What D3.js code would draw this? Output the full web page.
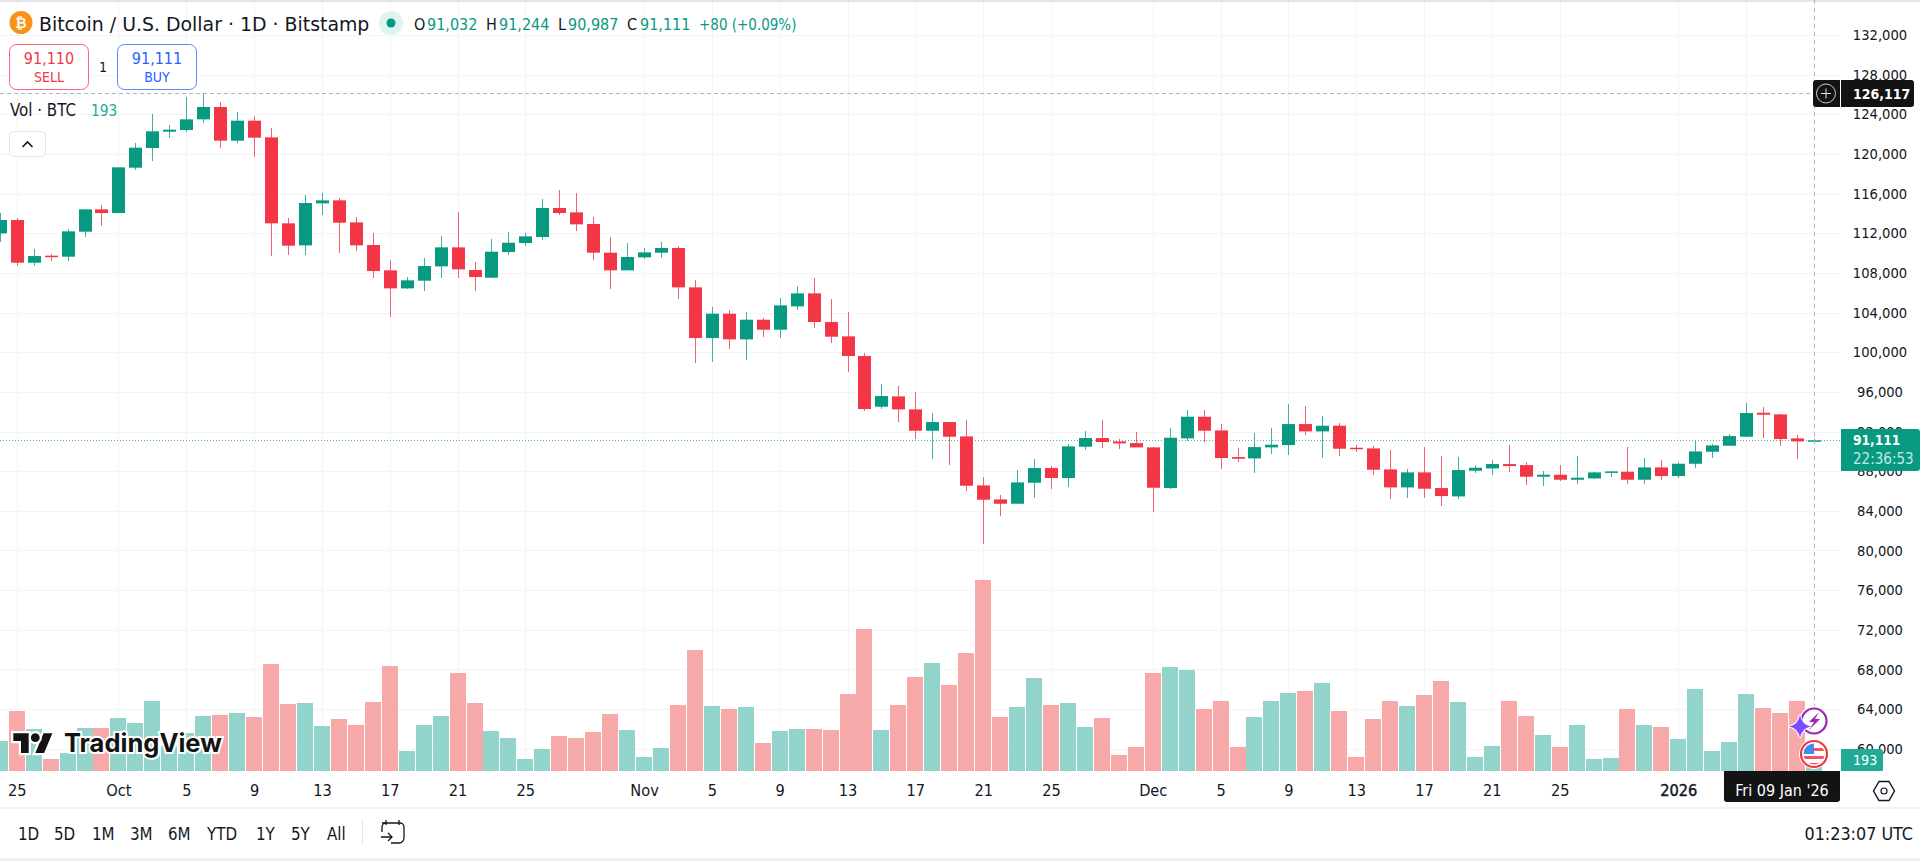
<!DOCTYPE html>
<html>
<head>
<meta charset="utf-8">
<title>Bitcoin / U.S. Dollar daily candles</title>
<script src="https://cdn.jsdelivr.net/npm/d3@7"></script>
<style>
  html, body { margin: 0; padding: 0; background: #fff; overflow: hidden; }
  svg { display: block; }
  text { font-family: "DejaVu Sans Condensed", "DejaVu Sans", sans-serif; fill: #131722; }
</style>
</head>
<body>
<svg id="chart" width="1920" height="861"></svg>
<script>
// Daily sessions, one entry per day starting 24 Sep 2025.
const firstSession = "2025-09-24";

const opens = [
  111989,113334,109030,109736,109635,112157,114410,114040,118614,120598,122246,122414,123491,124735,121338,123356,121674,113000,110779,115016,
  115319,113099,110812,108256,106440,107213,108660,110577,108290,107516,110105,111013,111618,114544,114107,112930,110038,108256,109567,110038,
  110509,106540,101429,103884,101294,103278,102269,104624,105935,103043,101597,99613,94499,95541,94230,92077,92952,91506,86562,85150,
  84712,86831,88311,87302,90463,91337,91001,90833,90396,86293,91304,93490,92111,89420,89286,90396,90631,92750,92010,92582,
  90362,90295,88176,86360,87874,86293,85452,88042,88277,88714,88613,87437,87638,87134,87268,87874,87941,87134,88378,87504,
  88748,89959,90564,91472,93893,93725,91304,91032
];
const highs = [
  114007,113570,110375,109904,112392,114478,114848,118715,121069,123995,122919,125744,126117,125239,124197,123793,122616,113502,115823,116058,
  115520,113637,112023,109298,107550,109534,111720,114108,109130,111383,112123,111989,115452,116360,116058,113636,111585,111047,110509,111114,
  110744,107247,104590,104220,104052,103413,105431,106675,107482,105363,104052,99882,96786,96584,96012,93826,92952,93120,87403,85553,
  88109,89219,88479,90698,92010,93154,91203,91976,90429,92346,94162,94129,92750,90329,91842,92346,94734,94566,93557,92817,
  90665,90530,90127,88210,90429,89522,89387,88580,89118,90631,88916,88008,88580,89522,87941,88008,90396,89286,89118,88882,
  91001,90698,91741,94869,94465,93759,91606,91244
];
const lows = [
  111148,108727,108727,109198,109232,111619,112762,114040,118379,119320,121641,122246,123154,120632,121136,119724,109736,109803,109803,113805,
  110038,110207,107516,103581,106373,106205,107516,107516,106137,107516,109803,110744,111316,113872,112258,109298,106372,108256,109399,109534,
  105363,98940,99007,100285,99209,101496,101429,104287,102471,100891,97999,94060,94297,92985,91237,89252,88580,86024,80610,83502,
  84712,85318,86158,86394,90160,90329,90262,90396,83872,86226,91068,90934,88176,88916,87806,89723,89622,91606,89353,89555,
  89891,87638,85217,85284,85284,84477,85150,87806,87638,87907,86596,86461,87000,86663,87201,87437,86730,86730,87100,87336,
  88344,89320,90564,91472,91304,90530,89252,90987
];
const closes = [
  113334,109030,109702,109635,112191,114410,114040,118648,120632,122280,122448,123491,124735,121338,123356,121641,113000,110745,115049,115319,
  113065,110779,108189,106440,107247,108693,110577,108357,107583,110139,111047,111686,114544,114040,112897,110038,108256,109601,110072,110509,
  106540,101429,103884,101294,103278,102269,104724,105935,103043,101563,99613,94263,95575,94230,92077,92952,91472,86529,85116,84712,
  86865,88311,87302,90497,91337,90934,90799,90396,86327,91371,93490,92077,89320,89252,90429,90665,92750,92010,92582,90261,
  90228,88143,86360,87874,86226,85486,88109,88344,88714,88512,87437,87638,87134,87336,87874,87975,87134,88378,87504,88748,
  89992,90597,91539,93860,93692,91237,91001,91111
];
const volumes = [
  1575,3115,2205,578,945,2240,2240,2748,2485,3658,1295,1995,2870,2940,2993,2800,5600,3500,3535,2328,
  2678,2398,3588,5478,1015,2398,2870,5128,3535,2083,1698,578,1138,1803,1698,2013,2958,2118,700,1173,
  3465,6318,3378,3238,3308,1453,2048,2205,2205,2118,4008,7420,2118,3430,4935,5635,4498,6160,10028,2835,
  3308,4848,3430,3535,2275,2748,805,1208,5093,5443,5285,3238,3675,1260,2835,3623,4060,4148,4568,3150,
  700,2678,3623,3378,3973,4725,3588,735,1295,3623,2870,1890,1208,2363,578,648,3220,2398,2275,1680,
  4253,1015,1488,4008,3273,3028,3623,193
];

const priceTicks = d3.range(60000, 132001, 4000);
const gridDays = [
  "2025-09-25","2025-10-01","2025-10-05","2025-10-09","2025-10-13","2025-10-17","2025-10-21","2025-10-25",
  "2025-11-01","2025-11-05","2025-11-09","2025-11-13","2025-11-17","2025-11-21","2025-11-25",
  "2025-12-01","2025-12-05","2025-12-09","2025-12-13","2025-12-17","2025-12-21","2025-12-25",
  "2026-01-01","2026-01-05","2026-01-09"
];
// The last two grid days sit beneath the date tag and carry no label.
const timeTicks = gridDays.slice(0, -2);
const rangeButtons = ["1D","5D","1M","3M","6M","YTD","1Y","5Y","All"];

const allTimeHigh = 126117;
const lastPrice = 91111;
const lastVolume = 193;

const UP = "#089981", DOWN = "#f23645";
const UP_VOL = "#92d3cc", DOWN_VOL = "#f7a9a9";
const INK = "#131722";
const COND = '"DejaVu Sans Condensed", "DejaVu Sans", sans-serif';

const parseDay = d3.utcParse("%Y-%m-%d");
const sessionDays = opens.map((_, i) => d3.utcDay.offset(parseDay(firstSession), i));

const paneRight = 1840, timeTop = 770.5;

const x = d3.scaleUtc()
  .domain([parseDay("2025-09-25"), parseDay("2026-01-09")])
  .range([16.7, 1814]);
const y = d3.scaleLinear().domain([132000, 60000]).range([35, 748.7]);
const v = d3.scaleLinear().domain([0, 10028]).range([timeTop, timeTop - 191]);

const svg = d3.select("#chart");

// Pane grid
const grid = svg.append("g").attr("shape-rendering", "crispEdges").attr("stroke", "#f3f4f6");
grid.selectAll("line.h").data(priceTicks).join("line").attr("class", "h")
  .attr("x1", 0).attr("x2", paneRight).attr("y1", d => Math.round(y(d))).attr("y2", d => Math.round(y(d)));
grid.selectAll("line.v").data(gridDays.map(parseDay)).join("line").attr("class", "v")
  .attr("y1", 0).attr("y2", timeTop).attr("x1", d => Math.round(x(d))).attr("x2", d => Math.round(x(d)));

// Frame bands
svg.append("rect").attr("x", 0).attr("y", 0).attr("width", 1920).attr("height", 2).attr("fill", "#e3e5ea");
svg.append("rect").attr("x", 0).attr("y", 807).attr("width", 1920).attr("height", 2).attr("fill", "#f0f1f3");
svg.append("rect").attr("x", 0).attr("y", 858).attr("width", 1920).attr("height", 3).attr("fill", "#eceef2");

// Volume histogram
const volG = svg.append("g").attr("shape-rendering", "crispEdges");
volG.selectAll("rect").data(volumes).join("rect")
  .attr("x", (d, i) => Math.round(x(sessionDays[i]) - 8))
  .attr("width", 16)
  .attr("y", d => v(d))
  .attr("height", d => timeTop - v(d))
  .attr("fill", (d, i) => closes[i] >= opens[i] ? UP_VOL : DOWN_VOL);

// All-time-high marker and last-price line
svg.append("line").attr("x1", 0).attr("x2", 1813).attr("y1", Math.round(y(allTimeHigh)) + .5).attr("y2", Math.round(y(allTimeHigh)) + .5)
  .attr("stroke", "#b2b5be").attr("stroke-dasharray", "4 3");
svg.append("line").attr("x1", 0).attr("x2", paneRight).attr("y1", Math.round(y(lastPrice)) + .5).attr("y2", Math.round(y(lastPrice)) + .5)
  .attr("stroke", "#4cb8a6").attr("stroke-dasharray", "1 2");

// Candles
const candles = svg.append("g").selectAll("g").data(opens).join("g")
  .attr("transform", (d, i) => `translate(${Math.round(x(sessionDays[i]))},0)`);
candles.append("line")
  .attr("x1", .5).attr("x2", .5)
  .attr("y1", (d, i) => y(highs[i])).attr("y2", (d, i) => y(lows[i]))
  .attr("stroke", (d, i) => closes[i] >= opens[i] ? "#3fb19e" : "#f4616e")
  .attr("shape-rendering", "crispEdges");
candles.append("rect")
  .attr("x", -6).attr("width", 13)
  .attr("y", (d, i) => y(Math.max(opens[i], closes[i])))
  .attr("height", (d, i) => Math.max(1.5, Math.abs(y(opens[i]) - y(closes[i]))))
  .attr("fill", (d, i) => closes[i] >= opens[i] ? UP : DOWN);

// Crosshair at the latest session
svg.append("line").attr("x1", 1814.5).attr("x2", 1814.5).attr("y1", 0).attr("y2", 735)
  .attr("stroke", "#b2b5be").attr("stroke-dasharray", "4 4");

// Price axis
const priceAxis = svg.append("g").attr("transform", "translate(1880,0)")
  .call(d3.axisRight(y).tickValues(priceTicks).tickSize(0).tickPadding(0).tickFormat(d3.format(",")));
priceAxis.select(".domain").remove();
priceAxis.selectAll("text").attr("text-anchor", "middle").attr("font-size", 14.6).attr("fill", INK)
  .style("font-family", COND);

// Time axis
const timeLabel = d => {
  const mon = d3.utcFormat("%b")(d), day = d.getUTCDate();
  if (d.getUTCMonth() === 0 && day === 1) return d3.utcFormat("%Y")(d);
  return day === 1 ? mon : String(day);
};
const timeAxis = svg.append("g").attr("transform", `translate(0,${timeTop})`)
  .call(d3.axisBottom(x).tickValues(timeTicks.map(parseDay)).tickSize(0).tickPadding(0).tickFormat(timeLabel));
timeAxis.select(".domain").remove();
timeAxis.selectAll("text").attr("font-size", 16.2).attr("fill", INK).attr("y", 25.5).attr("dy", 0)
  .style("font-family", COND)
  .filter(d => d.getUTCMonth() === 0 && d.getUTCDate() === 1)
  .attr("stroke", INK).attr("stroke-width", .45);

// Helper for plain text
const label = (t, px, py, size, color, opts = {}) => svg.append("text").text(t)
  .attr("x", px).attr("y", py).attr("font-size", size).style("fill", color || INK)
  .attr("text-anchor", opts.anchor || "start").attr("font-weight", opts.weight || 400);

// Bitcoin badge
svg.append("circle").attr("cx", 21).attr("cy", 22.5).attr("r", 11.5).attr("fill", "#f7931a");
label("₿", 21, 27.5, 14, "#fff", { anchor: "middle", weight: 700 }).style("font-family", '"DejaVu Sans", sans-serif');

// Title and OHLC read-out
label("Bitcoin / U.S. Dollar · 1D · Bitstamp", 39, 30.5, 18.9, INK).style("font-family", '"DejaVu Sans", sans-serif');
svg.append("circle").attr("cx", 391).attr("cy", 23).attr("r", 12).attr("fill", "#dff3f0");
svg.append("circle").attr("cx", 391).attr("cy", 23).attr("r", 4.5).attr("fill", UP);
[["O", 414], ["H", 486], ["L", 558], ["C", 627]].forEach(([t, px]) => label(t, px, 30, 16, INK));
[["91,032", 427], ["91,244", 499], ["90,987", 568], ["91,111", 640]]
  .forEach(([t, px]) => label(t, px, 30, 16, UP));
label("+80 (+0.09%)", 699, 30, 15, UP);

// Sell and buy buttons
const orderBox = (bx, color, price, side) => {
  svg.append("rect").attr("x", bx + .5).attr("y", 44.5).attr("width", 79).attr("height", 45).attr("rx", 7)
    .attr("fill", "#fff").attr("stroke", color).attr("stroke-opacity", .75);
  label(price, bx + 40, 63.5, 16, color, { anchor: "middle" });
  label(side, bx + 40, 82, 14, color, { anchor: "middle" });
};
orderBox(9, DOWN, "91,110", "SELL");
orderBox(117, "#2962ff", "91,111", "BUY");
label("1", 103, 71.5, 14, INK, { anchor: "middle" });

// Volume legend
label("Vol · BTC", 10, 116, 16.8, INK);
label(String(lastVolume), 91, 116, 15.4, "#22ab94");
svg.append("rect").attr("x", 9.5).attr("y", 131.5).attr("width", 36).attr("height", 25).attr("rx", 4)
  .attr("fill", "#fff").attr("stroke", "#e0e3eb");
svg.append("path").attr("d", "M22.5 147L27.5 142L32.5 147").attr("fill", "none").attr("stroke", INK).attr("stroke-width", 1.6);

// Watermark
const logo = svg.append("g").attr("transform", "translate(13.3,728.9) scale(1.1)");
logo.append("path").attr("d", "M14 22H7V11H0V4h14v18zM28 22h-8l7.5-18h8L28 22z")
  .attr("fill", "#131313").attr("stroke", "#fff").attr("stroke-width", 4).attr("paint-order", "stroke");
logo.append("circle").attr("cx", 20).attr("cy", 8).attr("r", 4)
  .attr("fill", "#131313").attr("stroke", "#fff").attr("stroke-width", 4).attr("paint-order", "stroke");
label("TradingView", 64, 752, 25.5, "#131313", { weight: 700 })
  .style("font-family", "Inter, sans-serif").attr("stroke", "#fff").attr("stroke-width", 4).attr("paint-order", "stroke");

// Price tags
svg.append("path").attr("d", "M1840 80H1816a3 3 0 0 0 -3 3V104a3 3 0 0 0 3 3H1840z").attr("fill", "#131313");
svg.append("path").attr("d", "M1841 80H1911a3 3 0 0 1 3 3V104a3 3 0 0 1 -3 3H1841z").attr("fill", "#131313");
svg.append("circle").attr("cx", 1826).attr("cy", 93.5).attr("r", 9.5).attr("fill", "none").attr("stroke", "#c8cad0");
svg.append("path").attr("d", "M1821 93.5H1831M1826 88.5V98.5").attr("stroke", "#e6e7ea");
label(d3.format(",")(allTimeHigh), 1853, 98.5, 14, "#fff", { weight: 700 });

svg.append("path").attr("d", "M1841 429H1917a3 3 0 0 1 3 3V468a3 3 0 0 1 -3 3H1841z").attr("fill", UP);
label(d3.format(",")(lastPrice), 1853, 445, 13.6, "#fff", { weight: 700 });
label("22:36:53", 1853, 463.5, 15, "#c5e8e3");

svg.append("path").attr("d", "M1841 749H1880a3 3 0 0 1 3 3V771H1841z").attr("fill", "#22ab94");
label(String(lastVolume), 1853, 765, 14.2, "#fff");

// Date tag on the time axis
svg.append("path").attr("d", "M1724 771H1840V799a3 3 0 0 1 -3 3H1727a3 3 0 0 1 -3 -3z").attr("fill", "#131313");
label("Fri 09 Jan '26", 1782, 796, 16, "#fff", { anchor: "middle" });

// Scale settings
svg.append("path").attr("d", "M1879 781.5H1889L1894.5 791L1889 800.5H1879L1873.5 791z")
  .attr("fill", "none").attr("stroke", INK).attr("stroke-width", 1.4);
svg.append("circle").attr("cx", 1884).attr("cy", 791).attr("r", 3).attr("fill", "none").attr("stroke", INK).attr("stroke-width", 1.2);

// Event icons next to the last candle
svg.append("circle").attr("cx", 1814).attr("cy", 721).attr("r", 15).attr("fill", "#fff");
svg.append("circle").attr("cx", 1814).attr("cy", 721).attr("r", 12.5).attr("fill", "#fff")
  .attr("stroke", "#9c27b0").attr("stroke-width", 2.2);
svg.append("path").attr("d", "M1819 712L1809 722H1814L1809 730L1820 719H1815z").attr("fill", "#9c27b0");
svg.append("path").attr("d", "M1800 715Q1802 725 1811 726.5Q1802 728 1800 738Q1798 728 1789 726.5Q1798 725 1800 715z")
  .attr("fill", "#7c4dff").attr("stroke", "#fff").attr("stroke-width", 2).attr("paint-order", "stroke");

svg.append("circle").attr("cx", 1814).attr("cy", 754).attr("r", 15).attr("fill", "#fff");
const defs = svg.append("defs");
defs.append("clipPath").attr("id", "flag").append("circle").attr("cx", 1814).attr("cy", 754).attr("r", 10.5);
const flag = svg.append("g").attr("clip-path", "url(#flag)");
flag.append("rect").attr("x", 1803).attr("y", 743).attr("width", 22).attr("height", 22).attr("fill", "#fff");
[748, 756, 763].forEach(py => flag.append("rect").attr("x", 1803).attr("y", py).attr("width", 22).attr("height", 3).attr("fill", "#f2545f"));
flag.append("rect").attr("x", 1803).attr("y", 743).attr("width", 11).attr("height", 11).attr("fill", "#3f8bf0");
svg.append("circle").attr("cx", 1814).attr("cy", 754).attr("r", 13).attr("fill", "none").attr("stroke", "#f23645").attr("stroke-width", 2.2);

// Bottom toolbar
[18, 54, 92, 130, 168, 207, 256, 291, 327].forEach((px, i) => label(rangeButtons[i], px, 840, 16.8, INK));
svg.append("line").attr("x1", 362.5).attr("x2", 362.5).attr("y1", 820).attr("y2", 845).attr("stroke", "#e0e3eb");
svg.append("path")
  .attr("d", "M386 820V825M399 820V825M382 823H400a4 4 0 0 1 4 4V838a5 5 0 0 1 -5 5H391M382 832V827a4 4 0 0 1 4 -4M381 837H392M388 833L392 837L388 841")
  .attr("fill", "none").attr("stroke", INK).attr("stroke-width", 1.3);
label("01:23:07 UTC", 1913, 840, 17.8, INK, { anchor: "end" });
</script>
</body>
</html>
